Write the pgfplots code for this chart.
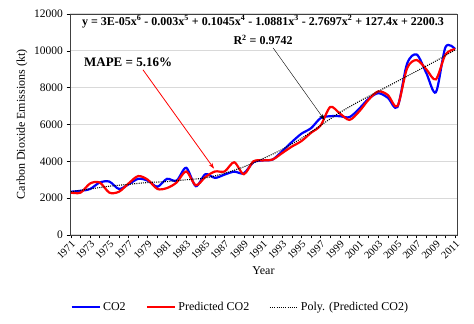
\documentclass[border=0pt]{standalone}
\usepackage{fontspec}
\setmainfont{Liberation Serif}
\usepackage{pgfplots}
\pgfplotsset{compat=1.18}
\usetikzlibrary{arrows.meta}
\definecolor{gridgray}{RGB}{217,217,217}
\definecolor{framegray}{RGB}{64,64,64}
\begin{document}
\begin{tikzpicture}
\useasboundingbox (0,0) rectangle (474pt,324pt);
\begin{axis}[
  at={(70pt,89pt)}, anchor=south west,
  scale only axis, width=387pt, height=221pt,
  xmin=1970.9, xmax=2011.2,
  ymin=0, ymax=12000,
  ytick={0,2000,...,12000},
  scaled y ticks=false,
  xtick={1971,1973,...,2011},
  minor xtick={1972,1974,...,2010},
  xticklabel style={rotate=45, anchor=north east, font=\fontsize{10.5}{12}\selectfont, inner sep=1pt},
  yticklabel style={font=\fontsize{11.5}{13}\selectfont},
  /pgf/number format/assume math mode=true,
  /pgf/number format/1000 sep={},
  x tick label style={/pgf/number format/1000 sep={}},
  y tick label style={/pgf/number format/fixed, /pgf/number format/1000 sep={}},
  tick pos=left, tick align=outside,
  major tick length=3.5pt, minor tick length=3.5pt,
  tick style={black, line width=0.6pt},
  ymajorgrids, grid style={gridgray, line width=1pt},
  axis line style={framegray, line width=0.8pt},
  xlabel={Year}, xlabel style={font=\fontsize{12}{14}\selectfont, yshift=-2pt},
  ylabel={Carbon Dioxide Emissions (kt)}, ylabel style={font=\fontsize{12}{14}\selectfont, yshift=0pt},
  legend style={at={(0.44,-0.285)}, anchor=north, draw=none, font=\fontsize{12}{14}\selectfont, legend columns=3, /tikz/every even column/.append style={column sep=18pt}},
  legend image code/.code={\draw[#1] (0cm,0cm) -- (1cm,0cm);},
  clip=false,
]
\addplot[blue, line width=2.2pt, smooth, tension=0.5] coordinates {
(1971,2350)(1972,2400)(1973,2500)(1974,2850)(1975,2900)(1976,2500)(1977,2750)(1978,3050)(1979,2950)(1980,2620)
(1981,3050)(1982,2950)(1983,3650)(1984,2650)(1985,3300)(1986,3100)(1987,3280)(1988,3440)(1989,3350)(1990,3950)
(1991,4050)(1992,4100)(1993,4550)(1994,5050)(1995,5500)(1996,5800)(1997,6350)(1998,6450)(1999,6450)(2000,6400)
(2001,6850)(2002,7400)(2003,7700)(2004,7450)(2005,6950)(2006,9300)(2007,9800)(2008,8800)(2009,7750)(2010,10200)(2011,10100)};
\addlegendentry{CO2}
\addplot[red, line width=2.2pt, smooth, tension=0.5] coordinates {
(1971,2300)(1972,2300)(1973,2800)(1974,2850)(1975,2300)(1976,2350)(1977,2800)(1978,3200)(1979,3000)(1980,2500)
(1981,2550)(1982,2850)(1983,3450)(1984,2700)(1985,3150)(1986,3450)(1987,3450)(1988,3950)(1989,3300)(1990,4000)
(1991,4050)(1992,4100)(1993,4450)(1994,4800)(1995,5100)(1996,5550)(1997,5950)(1998,6950)(1999,6600)(2000,6250)
(2001,6700)(2002,7350)(2003,7800)(2004,7600)(2005,7000)(2006,9050)(2007,9500)(2008,9000)(2009,8450)(2010,9800)(2011,10100)};
\addlegendentry{Predicted CO2}
\addplot[black, line width=1.1pt, dash pattern=on 1pt off 1.2pt, smooth] coordinates {
(1971,2350)(1973,2500)(1975,2650)(1977,2750)(1979,2850)(1981,2900)(1983,3000)(1985,3100)(1987,3350)(1989,3700)
(1991,4150)(1993,4650)(1995,5250)(1997,5950)(1999,6650)(2001,7250)(2003,7800)(2005,8350)(2007,8900)(2009,9450)(2011,10050)};
\addlegendentry{Poly. (Predicted CO2)}
\draw[framegray, line width=0.8pt] (rel axis cs:0,1) -- (rel axis cs:1,1) -- (rel axis cs:1,0);
\node[font=\bfseries\fontsize{12}{14}\selectfont] at (axis cs:1991.0,11577) {y = 3E-05x\textsuperscript{6} - 0.003x\textsuperscript{5} + 0.1045x\textsuperscript{4} - 1.0881x\textsuperscript{3} - 2.7697x\textsuperscript{2} + 127.4x + 2200.3};
\node[font=\bfseries\fontsize{12}{14}\selectfont] at (axis cs:1991.0,10600) {R\textsuperscript{2} = 0.9742};
\node[font=\bfseries\fontsize{13}{15}\selectfont] at (axis cs:1976.95,9400) {MAPE = 5.16\%};
\draw[red, line width=0.8pt, -{Stealth[length=6pt,width=4pt]}] (axis cs:1978.5,8970) -- (axis cs:1985.9,3600);
\draw[black, line width=0.4pt, -{Stealth[length=6pt,width=4pt]}] (axis cs:1992.05,10160) -- (axis cs:1997.4,6250);
\end{axis}
\end{tikzpicture}
\end{document}
